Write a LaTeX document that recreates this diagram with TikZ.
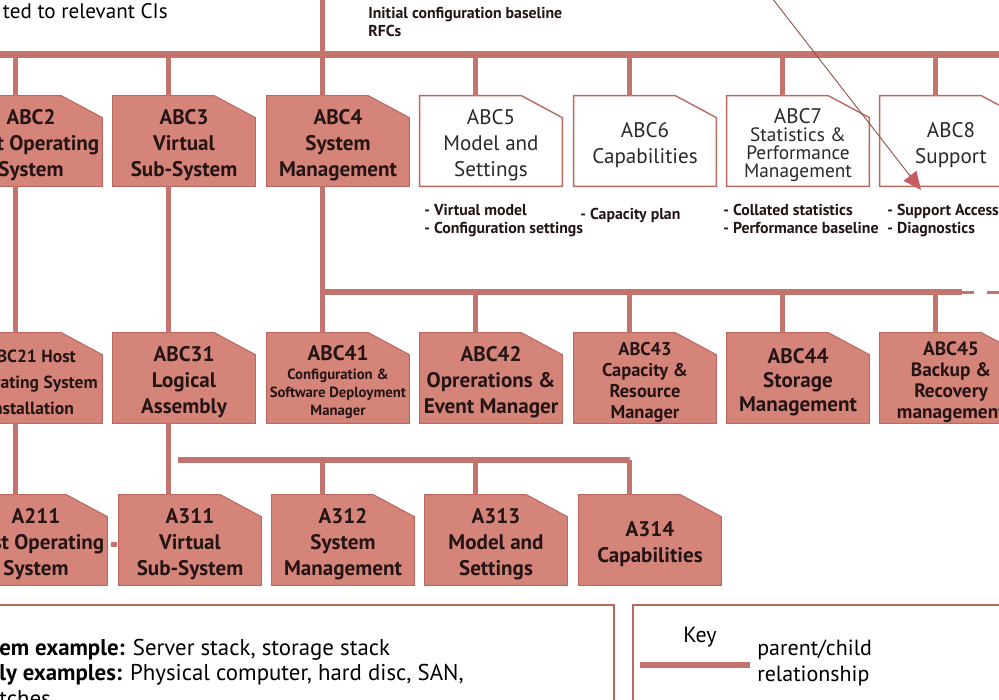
\documentclass[tikz,border=0pt]{standalone}
\usepackage{fontspec}
\setmainfont{PT Sans}
\usetikzlibrary{calc,backgrounds,arrows.meta}

\definecolor{rojo}{RGB}{213,132,122}
\definecolor{borde}{RGB}{188,104,96}
\definecolor{linea}{RGB}{196,116,110}
\definecolor{texto}{RGB}{36,20,20}
\definecolor{gris}{RGB}{45,40,40}
\definecolor{flecha}{RGB}{140,78,66}
\definecolor{punta}{RGB}{196,92,96}

\tikzset{
  caja/.style={minimum width=2.84cm, minimum height=1.8cm, inner sep=0pt, align=center,
    text=texto, font=\bfseries\fontsize{12}{14.8}\selectfont},
  blanca/.style={caja, text=gris, font=\fontsize{12}{14.8}\selectfont},
  rel/.style={draw=linea, line width=0.1cm},
  barra/.style={draw=linea, line width=0.14cm},
  lista/.style={anchor=north west, inner sep=0pt, align=left, text=texto,
    font=\bfseries\fontsize{9}{10.2}\selectfont},
  marco/.style={draw=borde, line width=0.04cm},
}

\begin{document}
\begin{tikzpicture}[x=0.02cm, y=-0.02cm]
    \useasboundingbox (0,0) rectangle (999,699);

    % Fila 1
    \node[caja] (abc2) at (31,145) {ABC2\\Host Operating\\System};
    \node[caja] (abc3) at (184,145) {ABC3\\Virtual\\Sub-System};
    \node[caja] (abc4) at (338,145) {ABC4\\System\\Management};
    \node[blanca] (abc5) at (491,145) {ABC5\\Model and\\Settings};
    \node[blanca] (abc6) at (645,145) {ABC6\\Capabilities};
    \node[blanca, font=\fontsize{11}{10.2}\selectfont] (abc7) at (798,145)
        {{\fontsize{12}{14}\selectfont ABC7}\\Statistics \&\\Performance\\Management};
    \node[blanca] (abc8) at (951,145) {ABC8\\Support};

    % Fila 2
    \node[caja, font=\bfseries\fontsize{10}{14.8}\selectfont] (abc21) at (31,382)
        {ABC21 Host\\Operating System\\Installation};
    \node[caja] (abc31) at (184,382) {ABC31\\Logical\\Assembly};
    \node[caja, font=\bfseries\fontsize{8.4}{10.2}\selectfont] (abc41) at (338,382)
        {{\fontsize{12}{14}\selectfont ABC41}\\[1pt]Configuration \&\\Software Deployment\\Manager};
    \node[caja] (abc42) at (491,382) {ABC42\\Oprerations \&\\Event Manager};
    \node[caja, font=\bfseries\fontsize{10.5}{12}\selectfont] (abc43) at (645,382)
        {ABC43\\Capacity \&\\Resource\\Manager};
    \node[caja, font=\bfseries\fontsize{12}{13.7}\selectfont] (abc44) at (798,382)
        {ABC44\\Storage\\Management};
    \node[caja, font=\bfseries\fontsize{11}{12}\selectfont] (abc45) at (951,382)
        {ABC45\\Backup \&\\Recovery\\management};

    % Fila 3
    \node[caja] (a211) at (36,544) {A211\\Host Operating\\System};
    \node[caja] (a311) at (190,544) {A311\\Virtual\\Sub-System};
    \node[caja] (a312) at (343,544) {A312\\System\\Management};
    \node[caja] (a313) at (496,544) {A313\\Model and\\Settings};
    \node[caja] (a314) at (650,544) {A314\\Capabilities};

    % Cajas
    \begin{scope}[on background layer]
        \foreach \n in {abc2,abc3,abc4,abc21,abc31,abc41,abc42,abc43,abc44,abc45,a211,a311,a312,a313,a314}
            \filldraw[fill=rojo, draw=borde, line width=0.6pt] ($(\n.south west)+(0,-4)$) -- ($(\n.north west)+(0,-4)$)
                -- ($(\n.north east)+(-41,-4)$) -- ($(\n.north east)+(0,18)$) -- ($(\n.south east)+(0,-4)$) -- cycle;
        \foreach \n in {abc5,abc6,abc7,abc8}
            \filldraw[fill=white, draw=borde, line width=0.8pt] ($(\n.south west)+(0,-4)$) -- ($(\n.north west)+(0,-4)$)
                -- ($(\n.north east)+(-41,-4)$) -- ($(\n.north east)+(0,18)$) -- ($(\n.south east)+(0,-4)$) -- cycle;
    \end{scope}

    % Puntos de enganche
    \foreach \n in {abc2,abc3,abc4,abc5,abc6,abc7,abc8,abc21,abc31,abc41,abc42,abc43,abc44,abc45}{
        \coordinate (t\n) at ($(\n.north west)+(56,-4)$);
        \coordinate (u\n) at ($(\n.south west)+(56,-4)$);
    }
    \foreach \n in {a312,a313,a314}
        \coordinate (t\n) at ($(\n.north west)+(51,-4)$);

    % Barra principal
    \coordinate (b0) at (-5,55);
    \coordinate (b1) at (1004,55);
    \coordinate (arriba) at (322,-5);
    \draw[barra] (b0) -- (b1);
    \draw[rel] (arriba) -- (arriba |- b0);
    \foreach \n in {abc2,abc3,abc4,abc5,abc6,abc7,abc8}
        \draw[rel] (t\n |- b0) -- (t\n);

    % Fila 1 a fila 2
    \foreach \n/\m in {abc2/abc21,abc3/abc31,abc4/abc41}
        \draw[rel] (u\n) -- (t\m);
    \coordinate (c0) at (323,292);
    \coordinate (c1) at (962,292);
    \coordinate (c2) at (1004,292);
    \draw[rel, line width=0.12cm] (c0) -- (c1);
    \draw[rel, line width=0.06cm, dash pattern=on 0.24cm off 0.26cm] (c1) -- (c2);
    \foreach \n in {abc42,abc43,abc44,abc45}
        \draw[rel] (t\n |- c0) -- (t\n);

    % Fila 2 a fila 3
    \draw[rel] (uabc21) -- (uabc21 |- ta312);
    \draw[rel] (uabc31) -- (uabc31 |- ta312);
    \coordinate (d0) at (178,460);
    \coordinate (d1) at (630,460);
    \draw[rel, line width=0.12cm] (d0) -- (d1);
    \foreach \n in {a312,a313,a314}
        \draw[rel] (t\n |- d0) -- (t\n);
    \draw[rel] ($(a211.east)+(4,0)$) -- ($(a311.west)+(-2,0)$);

    % Textos
    \node[anchor=base east, inner sep=0pt, font=\fontsize{12}{14}\selectfont] (cis) at (168,19) {ted to relevant CIs};
    \node[lista] (rfc) at (368,7) {Initial configuration baseline\\RFCs};
    \node[lista] (l5) at (424,204) {- Virtual model\\- Configuration settings};
    \node[lista] (l6) at (580,208) {- Capacity plan};
    \node[lista] (l7) at (723,204) {- Collated statistics\\- Performance baseline};
    \node[lista] (l8) at (887,204) {- Support Access\\- Diagnostics};

    % Flecha
    \coordinate (fa) at (772,-2);
    \coordinate (fb) at (921,190);
    \draw[flecha, line width=0.5pt, -{Triangle[length=0.36cm, width=0.32cm, color=punta]}] (fa) -- (fb);

    % Recuadros
    \draw[marco] (-5,605) -- (614,605) -- (614,704);
    \draw[marco] (633,704) -- (633,605) -- (1004,605);
    \node[anchor=base west, inner sep=0pt, font=\fontsize{13}{15}\selectfont] (ej1) at (-1,655)
        {\textbf{em example:} Server stack, storage stack};
    \node[anchor=base west, inner sep=0pt, font=\fontsize{13}{15}\selectfont] (ej2) at (-1,680)
        {\textbf{ly examples:} Physical computer, hard disc, SAN,};
    \node[anchor=base west, inner sep=0pt, font=\fontsize{13}{15}\selectfont] (ej3) at (-1,706) {tches};

    % Clave
    \node[font=\fontsize{12.5}{14}\selectfont] (key) at (700,637) {Key};
    \coordinate (k0) at (640,665);
    \coordinate (k1) at (750,665);
    \draw[rel, line width=0.12cm] (k0) -- (k1);
    \node[anchor=west, inner sep=0pt, align=left, font=\fontsize{12.5}{14.8}\selectfont] (pc) at (757,663)
        {parent/child\\relationship};
\end{tikzpicture}
\end{document}
